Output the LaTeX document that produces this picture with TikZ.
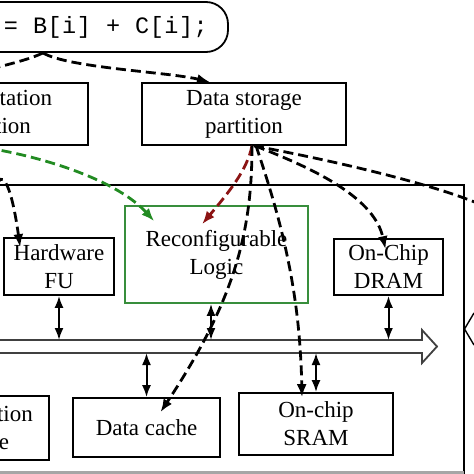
\documentclass[tikz,border=0pt]{standalone}
\usepackage{fontspec}
\setmainfont{Liberation Serif}
\newfontfamily\codefont{Liberation Mono}
\newcommand\codecell[1]{\makebox[14.6pt][c]{#1}}
\usetikzlibrary{arrows.meta}
\definecolor{gbox}{RGB}{56,142,60}
\definecolor{gdash}{RGB}{34,139,34}
\definecolor{rdash}{RGB}{140,20,20}
\begin{document}
\begin{tikzpicture}[x=1pt,y=-1pt,
  box/.style={draw, line width=1.7pt, align=center, inner sep=0pt,
    font=\fontsize{23}{28}\selectfont},
  dsh/.style={line width=2.8pt, dash pattern=on 10pt off 5pt,
    -{Latex[length=13pt,width=10pt]}},
  dbl/.style={line width=2pt,
    {Latex[length=12pt,width=9pt]}-{Latex[length=12pt,width=9pt]}},
  codebox/.style={draw, line width=1.8pt, rounded corners=22pt,
    text width=300pt, align=right, inner xsep=20pt, inner ysep=0pt,
    minimum height=50pt, font=\codefont\fontsize{23.5}{28}\selectfont}]
\useasboundingbox (0,0) rectangle (474,474);
\clip (0,0) rectangle (474,474);

% nodes
\node[codebox] (code) at (58,27) {\codecell{=}\codecell{}\codecell{B}\codecell{[}\codecell{i}\codecell{]}\codecell{}\codecell{+}\codecell{}\codecell{C}\codecell{[}\codecell{i}\codecell{]}\codecell{;}};
\node[box, minimum width=192pt, minimum height=62pt] (comp) at (-8,114) {Computation\\partition};
\node[box, minimum width=204pt, minimum height=62pt] (dsp) at (244,114) {Data storage\\partition};
\node[box, minimum width=110pt, minimum height=57pt] (hwfu) at (59,266.5) {Hardware\\FU};
\node[box, draw=gbox, minimum width=183pt, minimum height=97pt] (rl) at (216.5,254.5) {Reconfigurable\\Logic};
\node[box, minimum width=109pt, minimum height=56pt] (dram) at (388.5,267) {On-Chip\\DRAM};
\node[box, minimum width=132pt, minimum height=64pt] (icache) at (-17,428) {Instruction\\cache};
\node[box, minimum width=147pt, minimum height=59pt] (dcache) at (146.5,427.5) {Data cache};
\node[box, minimum width=154pt, minimum height=62pt] (sram) at (316,424) {On-chip\\SRAM};

% system frame
\draw[line width=1.7pt] (-5,185) -- (464,185) -- (464,474);
\draw[line width=3pt, black!35] (0,472.5) -- (464,472.5);
\draw[line width=1.4pt] (474,313) -- (464.5,329) -- (474,345);

% bus
\draw[line width=1.8pt, black!75, line join=miter]
  (-5,340) -- (422,340) -- (422,330) -- (437,346.5) -- (422,363) -- (422,353) -- (-5,353);
\coordinate (bustop) at (0,340);
\coordinate (busbot) at (0,353);
\coordinate (rlb) at ([xshift=-5.5pt]rl.south);
\draw[dbl] (hwfu.south) -- (hwfu.south |- bustop);
\draw[dbl] (rlb) -- (rlb |- bustop);
\draw[dbl] (dram.south) -- (dram.south |- bustop);
\draw[dbl] (dcache.north) -- (dcache.north |- busbot);
\draw[dbl] (sram.north) -- (sram.north |- busbot);

% dashed connectors
\draw[dsh] ([xshift=-15pt]code.south) .. controls +(25,15) and +(-40,-10) .. ([xshift=-34pt]dsp.north);
\draw[dsh] ([xshift=-15pt]code.south) .. controls +(-20,10) and +(20,-10) .. ([xshift=-40pt]comp.north);
\draw[dsh, color=gdash] ([xshift=-20pt]comp.south) .. controls +(58,7) and +(-40,-44) .. ([shift={(30,16)}]rl.north west);
\coordinate (hwstart) at (-3,186);
\draw[dsh] (hwstart) .. controls (0,172) and (10,175) .. ([shift={(17,10)}]hwfu.north west);
\draw[dsh, color=rdash] ([xshift=8pt]dsp.south) .. controls +(-5,25) and +(25,-30) .. ([shift={(78,19)}]rl.north west);
\draw[dsh] ([xshift=11pt]dsp.south) .. controls +(65,25) and +(-11,-50) .. ([shift={(-3,11)}]dram.north);
\draw[dsh] ([xshift=8pt]dsp.south) .. controls +(0,85) and +(75,-113) .. ([shift={(14,15)}]dcache.north);
\draw[dsh] ([xshift=12pt]dsp.south) .. controls +(29,85) and +(-2,-98) .. ([shift={(-14,5)}]sram.north);
\coordinate (farR) at (505,216);
\draw[dsh] ([xshift=10pt]dsp.south) .. controls +(80,15) and +(-60,-30) .. (farR);
\end{tikzpicture}
\end{document}
